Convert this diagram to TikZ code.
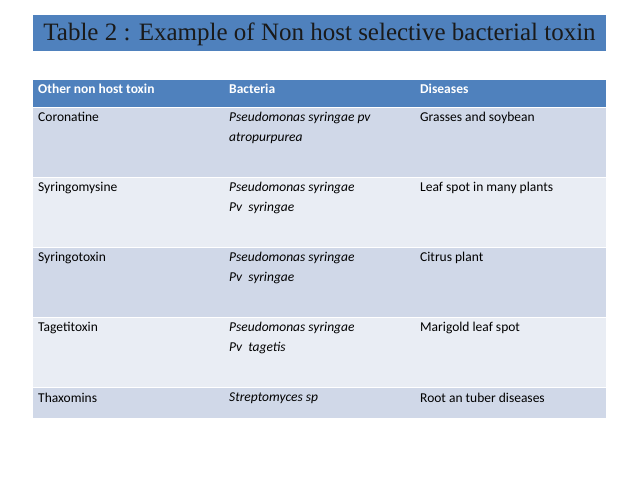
\documentclass[tikz,border=0pt]{standalone}
\usepackage{fontspec}
\setmainfont{Carlito}
\newfontfamily\titlefont{Liberation Serif}
\definecolor{hdr}{HTML}{4F81BD}
\definecolor{dark}{HTML}{D0D8E8}
\definecolor{light}{HTML}{E9EDF4}
\definecolor{ttl}{HTML}{1A1A1A}
\begin{document}
\begin{tikzpicture}[x=1pt,y=-1pt,
  cell/.style={anchor=north west,inner sep=0pt,font=\fontsize{13.5}{20}\selectfont,align=left},
  hcell/.style={cell,text=white,font=\fontsize{13.5}{20}\selectfont\bfseries}]
\useasboundingbox (0,0) rectangle (638,478);
\fill[hdr] (33,15) rectangle (606,51);
\node[font=\titlefont\fontsize{25}{28}\selectfont,text=ttl] (title) at (319.5,34) {Table 2 : Example of Non host selective bacterial toxin};
\fill[hdr] (33,80) rectangle (606,108);
\fill[dark] (33,108) rectangle (606,178);
\fill[light] (33,178) rectangle (606,248);
\fill[dark] (33,248) rectangle (606,318);
\fill[light] (33,318) rectangle (606,388);
\fill[dark] (33,388) rectangle (606,418);
\draw[white,line width=1pt] (33,108) -- (606,108) (33,178) -- (606,178) (33,248) -- (606,248) (33,318) -- (606,318) (33,388) -- (606,388);
\node[hcell] (h1) at (38,84) {Other non host toxin};
\node[hcell] (h2) at (229,84) {Bacteria};
\node[hcell] (h3) at (420,84) {Diseases};
\node[cell] (a1) at (38,112) {Coronatine};
\node[cell] (b1) at (229,112) {\itshape Pseudomonas syringae pv\\\itshape atropurpurea};
\node[cell] (c1) at (420,112) {Grasses and soybean};
\node[cell] (a2) at (38,182) {Syringomysine};
\node[cell] (b2) at (229,182) {\itshape Pseudomonas syringae\\\itshape Pv\ \ syringae};
\node[cell] (c2) at (420,182) {Leaf spot in many plants};
\node[cell] (a3) at (38,252) {Syringotoxin};
\node[cell] (b3) at (229,252) {\itshape Pseudomonas syringae\\\itshape Pv\ \ syringae};
\node[cell] (c3) at (420,252) {Citrus plant};
\node[cell] (a4) at (38,322) {Tagetitoxin};
\node[cell] (b4) at (229,322) {\itshape Pseudomonas syringae\\\itshape Pv\ \ tagetis};
\node[cell] (c4) at (420,322) {Marigold leaf spot};
\node[cell] (a5) at (38,393) {Thaxomins};
\node[cell] (b5) at (229,393) {\itshape Streptomyces sp};
\node[cell] (c5) at (420,393) {Root an tuber diseases};
\end{tikzpicture}
\end{document}
